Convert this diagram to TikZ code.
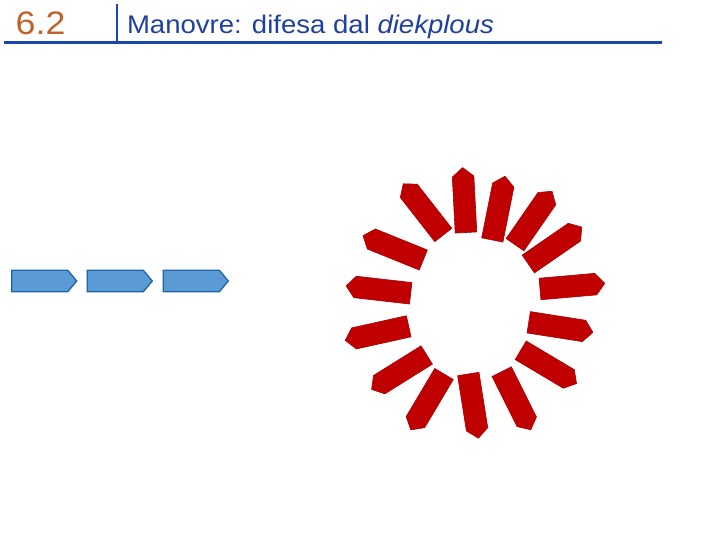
\documentclass[tikz,border=0pt]{standalone}
\usepackage{fontspec}
\setmainfont{Liberation Sans}
\usepackage{xcolor}
\definecolor{titleblue}{RGB}{31,64,160}
\definecolor{rulerblue}{RGB}{25,70,170}
\definecolor{numorange}{RGB}{192,98,40}
\definecolor{shipred}{RGB}{192,0,0}
\definecolor{shipredline}{RGB}{170,0,0}
\definecolor{shipblue}{RGB}{91,155,213}
\definecolor{shipblueline}{RGB}{30,100,170}
\newcommand{\nave}[4]{\draw[#4, shift={(#1,#2)}, rotate=#3] (0,-10.8) -- (56,-10.8) -- (65,0) -- (56,10.8) -- (0,10.8) -- cycle;}
\usepackage{tikz}
\tikzset{
  bluship/.style={fill=shipblue, draw=shipblueline, line width=1.3pt, line join=miter},
  redship/.style={fill=shipred, draw=shipredline, line width=0.6pt}
}

\begin{document}
\begin{tikzpicture}[x=1pt, y=1pt]
        \useasboundingbox (0, 0) rectangle (720, 540);
        % intestazione
        \coordinate (rl) at (4, 497.3);
        \coordinate (rr) at (661.7, 497.3);
        \coordinate (bt) at (116.7, 536);
        \coordinate (bb) at (116.7, 497.3);
        \draw[rulerblue, line width=2.6pt] (rl) -- (rr);
        \draw[rulerblue, line width=2.4pt] (bt) -- (bb);
        \node[anchor=base west, inner sep=0pt, xscale=1.1, numorange, font=\fontsize{32.5}{36}\selectfont] (num) at (15.5, 505) {6.2};
        \node[anchor=base west, inner sep=0pt, xscale=1.08, titleblue, font=\fontsize{25.5}{30}\selectfont] (titolo) at (126.8, 506.5) {Manovre: difesa dal \textit{diekplous}};
        % colonna in linea di fila
        \nave{11.7}{259}{0}{bluship}
        \nave{87.3}{259}{0}{bluship}
        \nave{163.3}{259}{0}{bluship}
        % cerchio difensivo
        \nave{466}{307.5}{93}{redship}
        \nave{492.3}{300}{78.7}{redship}
        \nave{515}{295.3}{55.3}{redship}
        \nave{528.3}{276}{34.6}{redship}
        \nave{540}{251}{5}{redship}
        \nave{528.7}{217.7}{-8.9}{redship}
        \nave{520.7}{189.7}{-30.8}{redship}
        \nave{501.7}{168.3}{-63.4}{redship}
        \nave{468.3}{166}{-81}{redship}
        \nave{444}{166}{239.3}{redship}
        \nave{426.7}{185}{212}{redship}
        \nave{408.7}{213.7}{192.5}{redship}
        \nave{410.7}{246.7}{173.5}{redship}
        \nave{423.3}{280}{158}{redship}
        \nave{443.3}{305}{128}{redship}
    \end{tikzpicture}
\end{document}
